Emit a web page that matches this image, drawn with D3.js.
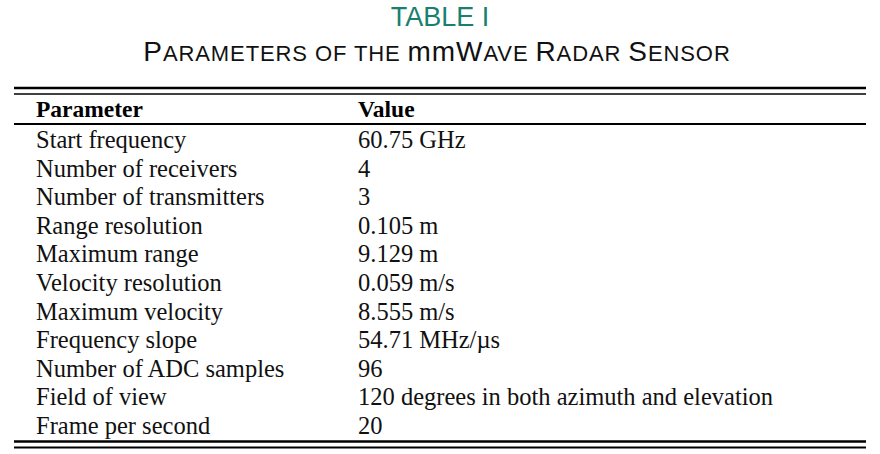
<!DOCTYPE html>
<html><head><meta charset="utf-8">
<script src="https://cdn.jsdelivr.net/npm/d3@7"></script>
<style>body{margin:0;background:#fff}</style>
</head><body><svg id="t"></svg>
<script>
const headers = ['Parameter', 'Value']
const parameters = ['Start frequency','Number of receivers','Number of transmitters','Range resolution','Maximum range','Velocity resolution','Maximum velocity','Frequency slope','Number of ADC samples','Field of view','Frame per second']
const values = ['60.75 GHz','4','3','0.105 m','9.129 m','0.059 m/s','8.555 m/s','54.71 MHz/\u00b5s','96','120 degrees in both azimuth and elevation','20']

const W = 880, H = 454
const svg = d3.select('#t').attr('width', W).attr('height', H)
const serif = "'Liberation Serif','Times New Roman',serif"
const sans = "'Liberation Sans',Arial,sans-serif"

svg.append('text').attr('x', 440).attr('y', 26).attr('text-anchor','middle')
    .attr('font-family', sans).attr('font-size', 27).attr('fill', '#17806f').text('TABLE I')

// small caps subtitle
const sub = svg.append('text').attr('x', 437).attr('y', 61).attr('text-anchor','middle')
    .attr('font-family', sans).attr('fill', '#111').attr('letter-spacing', 0.9)
const parts = [['P',28],['ARAMETERS OF THE ',22],['mm',28],['W',28],['AVE ',22],['R',28],['ADAR ',22],['S',28],['ENSOR',22]]
parts.forEach(p => sub.append('tspan').attr('font-size', p[1]).text(p[0]))

const x0 = 14, x1 = 866
const hline = (y, w) => svg.append('line').attr('x1', x0).attr('x2', x1).attr('y1', y).attr('y2', y)
    .attr('stroke', '#000').attr('stroke-width', w)
hline(88, 2.5); hline(94, 1.5); hline(124, 2)
hline(441.5, 2.5); hline(447.5, 2)

const col = d3.scaleOrdinal().domain([0, 1]).range([36, 358])
const row = d3.scaleLinear().domain([0, parameters.length - 1]).range([148, 434])

svg.selectAll('text.h').data(headers).enter().append('text').attr('class','h')
    .attr('x', (d, i) => col(i)).attr('y', 117)
    .attr('font-family', serif).attr('font-weight', 'bold').attr('font-size', 23.5).text(d => d)

const rows = svg.selectAll('g.r').data(parameters.map((p, i) => [p, values[i]])).enter()
    .append('g').attr('class','r')
rows.each(function(d, i){
    d3.select(this).selectAll('text').data(d).enter().append('text')
        .attr('x', (v, j) => col(j)).attr('y', row(i))
        .attr('font-family', serif).attr('font-size', 24.5).attr('fill', '#111').text(v => v)
})
</script></body></html>
